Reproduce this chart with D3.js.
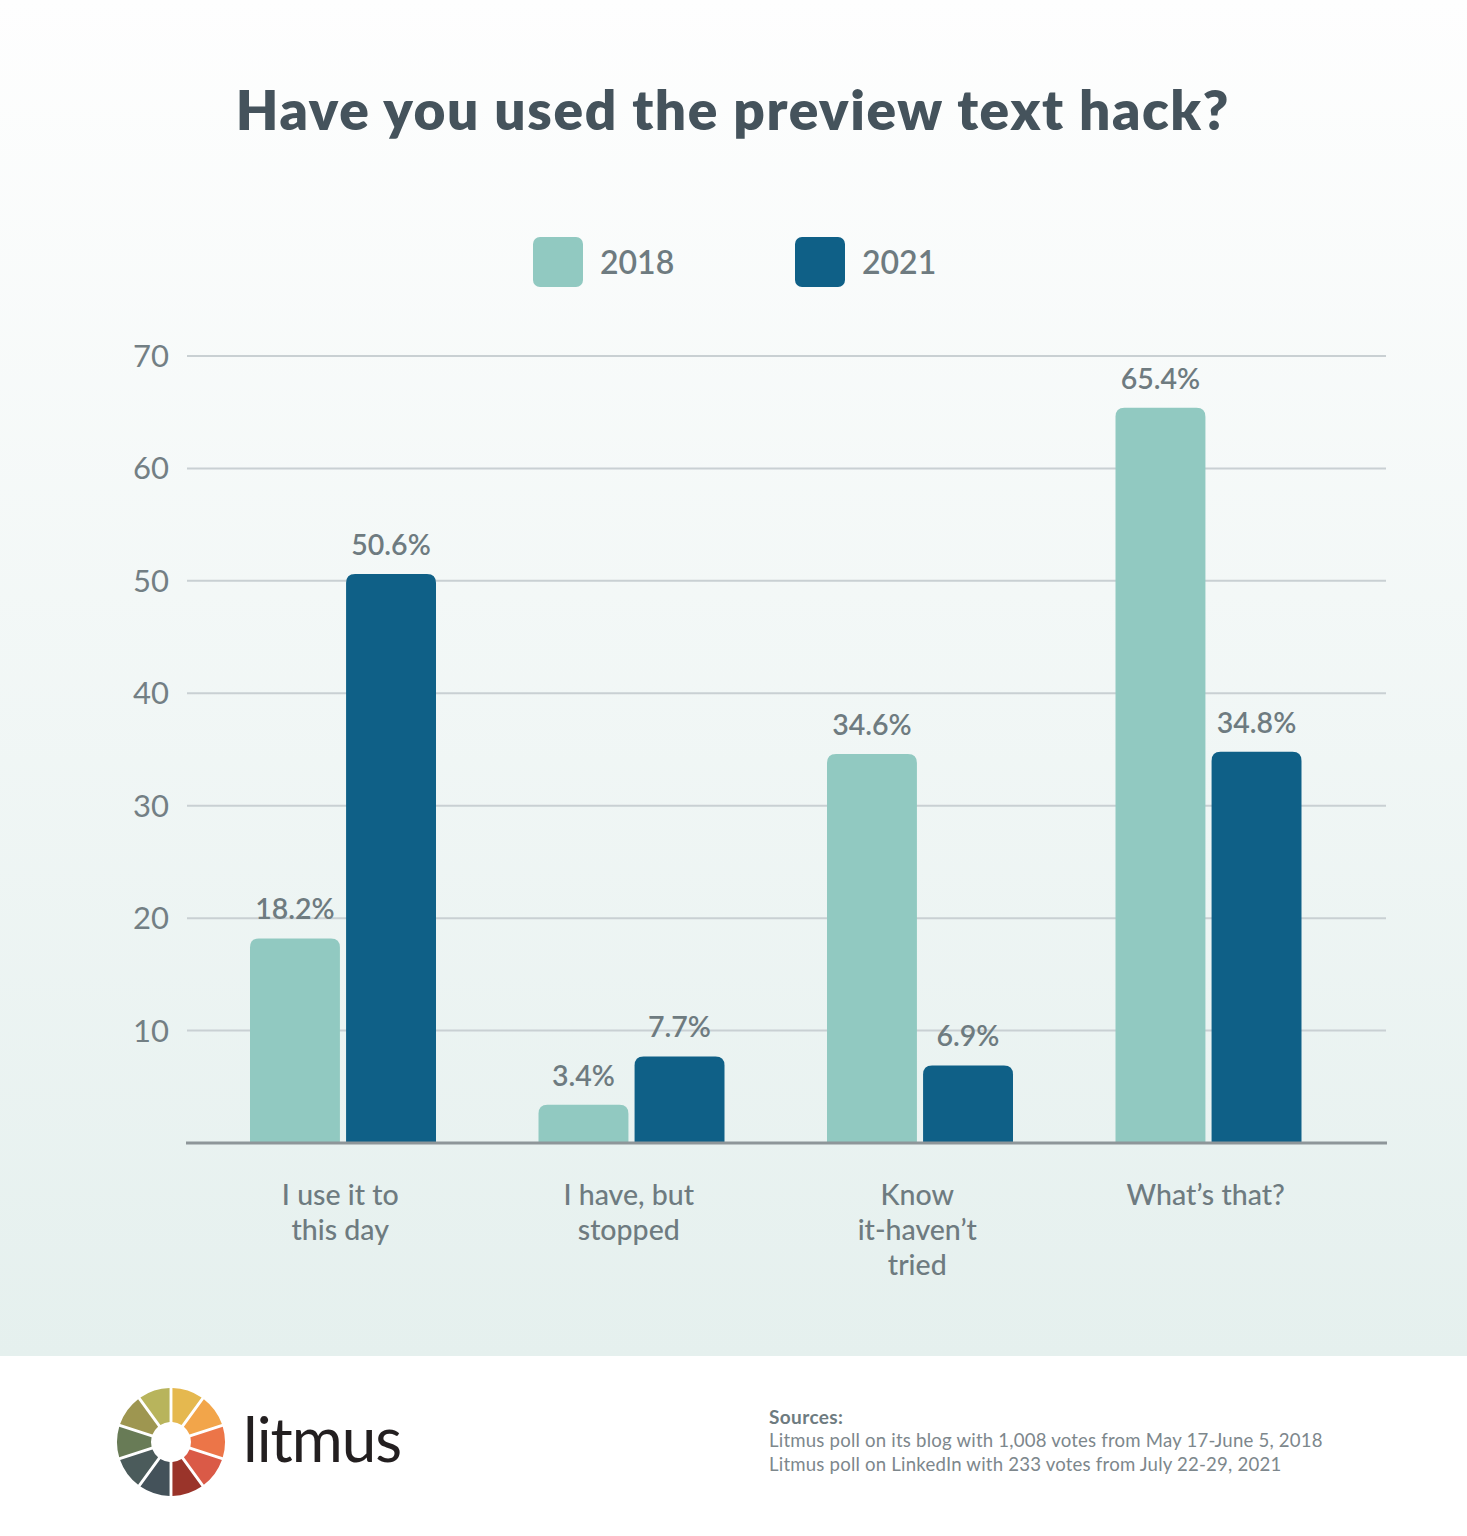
<!DOCTYPE html>
<html>
<head>
<meta charset="utf-8">
<script src="https://cdn.jsdelivr.net/npm/d3@7"></script>
<style>
  html, body { margin: 0; padding: 0; background: #fff; }
  svg { display: block; }
  text { font-family: Lato, "Open Sans", sans-serif; }
</style>
</head>
<body>
<svg id="chart"></svg>
<script>
// data
var categories = ["I use it to|this day", "I have, but|stopped", "Know|it-haven\u2019t|tried", "What\u2019s that?"];
var years = ["2018", "2021"];
var values2018 = [18.2, 3.4, 34.6, 65.4];
var values2021 = [50.6, 7.7, 6.9, 34.8];
var yTicks = [10, 20, 30, 40, 50, 60, 70];
var sourceLines = [
  "Litmus poll on its blog with 1,008 votes from May 17-June 5, 2018",
  "Litmus poll on LinkedIn with 233 votes from July 22-29, 2021"
];
var logoColors = ["#e5b84f", "#f2a54a", "#ec7548", "#da5a47", "#9a342a",
                  "#44525a", "#4b5b5b", "#687b56", "#9e9650", "#b8b45c"];

var colors = { "2018": "#91c9c1", "2021": "#0f6087" };
var W = 1467, H = 1536;

var svg = d3.select("#chart").attr("width", W).attr("height", H);

// background gradient
var defs = svg.append("defs");
var grad = defs.append("linearGradient").attr("id", "bg")
  .attr("x1", 0).attr("y1", 0).attr("x2", 0).attr("y2", 1);
grad.append("stop").attr("offset", "0%").attr("stop-color", "#fefefe");
grad.append("stop").attr("offset", "100%").attr("stop-color", "#e5f0ee");
svg.append("rect").attr("width", W).attr("height", 1356).attr("fill", "url(#bg)");
svg.append("rect").attr("y", 1356).attr("width", W).attr("height", H - 1356).attr("fill", "#fff");

// title
svg.append("text")
  .attr("x", 733).attr("y", 130)
  .attr("text-anchor", "middle")
  .attr("font-size", 55).attr("font-weight", 800)
  .attr("letter-spacing", 1.6)
  .attr("fill", "#45535c")
  .text("Have you used the preview text hack?");

// legend
var legend = svg.append("g").selectAll("g")
  .data(years).enter().append("g")
  .attr("transform", function(d, i) { return "translate(" + (533 + i * 262) + ",237)"; });
legend.append("rect")
  .attr("width", 50).attr("height", 50).attr("rx", 7)
  .attr("fill", function(d) { return colors[d]; });
legend.append("text")
  .attr("x", 67).attr("y", 37)
  .attr("font-size", 32).attr("font-weight", 600)
  .attr("fill", "#6e7b80")
  .text(function(d) { return d; });

// scales
var x0 = d3.scaleBand().domain(categories).range([199, 1353]);
var x1 = d3.scaleBand().domain(years).range([51, 237]).paddingInner(0.064);
var y = d3.scaleLinear().domain([0, 70]).range([1143, 356]);
var base = 1142;

// grid + y labels
var grid = svg.append("g");
grid.selectAll("line").data(yTicks).enter().append("line")
  .attr("x1", 187).attr("x2", 1386)
  .attr("y1", function(d) { return y(d); })
  .attr("y2", function(d) { return y(d); })
  .attr("stroke", "#c9d0d3").attr("stroke-width", 2);
grid.selectAll("text").data(yTicks).enter().append("text")
  .attr("x", 169)
  .attr("y", function(d) { return y(d) + 11; })
  .attr("text-anchor", "end")
  .attr("font-size", 31).attr("font-weight", 400)
  .attr("fill", "#737f84")
  .text(function(d) { return d; });

// bars
var rows = categories.map(function(c, i) {
  return { cat: c, vals: [{ year: "2018", v: values2018[i] }, { year: "2021", v: values2021[i] }] };
});

function topRounded(xp, yp, w, h, r) {
  return "M" + xp + "," + (yp + h) +
    "V" + (yp + r) +
    "Q" + xp + "," + yp + " " + (xp + r) + "," + yp +
    "H" + (xp + w - r) +
    "Q" + (xp + w) + "," + yp + " " + (xp + w) + "," + (yp + r) +
    "V" + (yp + h) + "Z";
}

var groups = svg.append("g").selectAll("g")
  .data(rows).enter().append("g")
  .attr("transform", function(d) { return "translate(" + x0(d.cat) + ",0)"; });

groups.selectAll("path").data(function(d) { return d.vals; }).enter().append("path")
  .attr("d", function(d) {
    return topRounded(x1(d.year), y(d.v), x1.bandwidth(), base - y(d.v), 9);
  })
  .attr("fill", function(d) { return colors[d.year]; });

groups.selectAll("text.val").data(function(d) { return d.vals; }).enter().append("text")
  .attr("class", "val")
  .attr("x", function(d) { return x1(d.year) + x1.bandwidth() / 2; })
  .attr("y", function(d) { return y(d.v) - 19; })
  .attr("text-anchor", "middle")
  .attr("font-size", 28.5).attr("font-weight", 600)
  .attr("fill", "#6e7b80")
  .text(function(d) { return d.v + "%"; });

// baseline
svg.append("line")
  .attr("x1", 186).attr("x2", 1387)
  .attr("y1", base + 1).attr("y2", base + 1)
  .attr("stroke", "#8e9699").attr("stroke-width", 3);

// category labels
var catLabels = svg.append("g").selectAll("text")
  .data(categories).enter().append("text")
  .attr("text-anchor", "middle")
  .attr("font-size", 28.5).attr("font-weight", 500)
  .attr("fill", "#6e7b80")
  .attr("transform", function(d) { return "translate(" + (x0(d) + x0.bandwidth() / 2 - 3) + ",1205)"; });
catLabels.selectAll("tspan")
  .data(function(d) { return d.split("|"); }).enter().append("tspan")
  .attr("x", 0).attr("dy", function(d, i) { return i === 0 ? 0 : 35; })
  .text(function(d) { return d; });

// footer logo
var logo = svg.append("g").attr("transform", "translate(171,1442)");
var arc = d3.arc().innerRadius(20).outerRadius(54).padAngle(0.05);
var pie = d3.pie().value(1).sort(null);
logo.selectAll("path").data(pie(logoColors)).enter().append("path")
  .attr("d", arc)
  .attr("fill", function(d) { return d.data; });

svg.append("text")
  .attr("x", 243).attr("y", 1462)
  .attr("font-size", 62).attr("font-weight", 400)
  .attr("font-family", "'Open Sans', sans-serif")
  .attr("letter-spacing", -1)
  .attr("fill", "#231f20")
  .text("litmus");

// sources
svg.append("text")
  .attr("x", 769).attr("y", 1424)
  .attr("font-size", 19).attr("font-weight", 700)
  .attr("letter-spacing", 0.4)
  .attr("fill", "#6e7b80")
  .text("Sources:");
svg.append("g").selectAll("text")
  .data(sourceLines).enter().append("text")
  .attr("x", 769)
  .attr("y", function(d, i) { return 1447 + i * 24; })
  .attr("font-size", 18.6)
  .attr("letter-spacing", 0.2)
  .attr("fill", "#7d878c")
  .text(function(d) { return d; });
</script>
</body>
</html>
